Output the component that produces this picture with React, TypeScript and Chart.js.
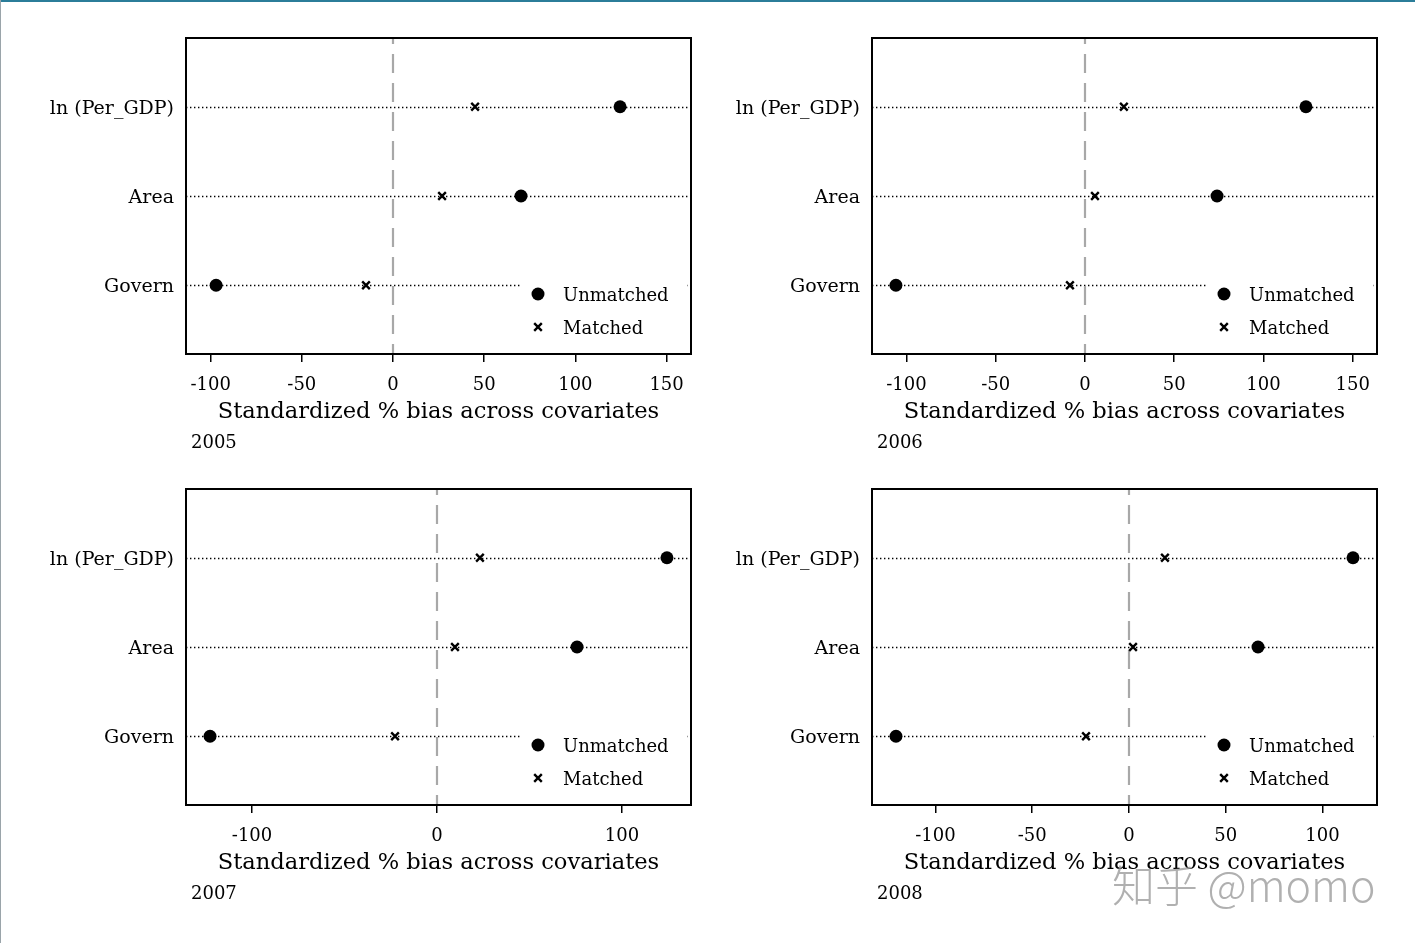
import React, { useEffect, useRef } from 'react';
import { Chart, registerables } from 'chart.js';

Chart.register(...registerables);

// ---- data ----
const covariates = ['Govern', 'Area', 'ln (Per_GDP)']; // y positions 1, 2, 3
const seriesLabels = ['Unmatched', 'Matched'];
const axisTitle = 'Standardized % bias across covariates';

const years = ['2005', '2006', '2007', '2008'];

const unmatched2005 = [-97, 70.2, 124.5];
const matched2005 = [-14.8, 26.9, 45];
const unmatched2006 = [-105.9, 74, 123.8];
const matched2006 = [-8.4, 5.6, 21.8];
const unmatched2007 = [-122.7, 75.7, 124.3];
const matched2007 = [-22.7, 9.7, 23.2];
const unmatched2008 = [-120.4, 66.7, 115.8];
const matched2008 = [-22.2, 2.1, 18.6];

const ticks2005 = [-100, -50, 0, 50, 100, 150];
const ticks2006 = [-100, -50, 0, 50, 100, 150];
const ticks2007 = [-100, 0, 100];
const ticks2008 = [-100, -50, 0, 50, 100];

const range2005 = [-113.5, 163.4];
const range2006 = [-119.3, 163.6];
const range2007 = [-135.7, 137.3];
const range2008 = [-132.8, 128.2];

const FONT = "'DejaVu Serif', serif";

const panelPlugin = {
  id: 'panel',
  beforeDatasetsDraw(chart: any) {
    const { ctx, chartArea, scales } = chart;
    const { left, right, top, bottom } = chartArea;
    const x = scales.x;
    const y = scales.y;
    ctx.save();
    ctx.strokeStyle = '#000';
    ctx.lineWidth = 1.3;
    ctx.setLineDash([1.4, 2.6]);
    [1, 2, 3].forEach((v) => {
      const py = Math.round(y.getPixelForValue(v)) + 0.5;
      ctx.beginPath();
      ctx.moveTo(left, py);
      ctx.lineTo(right, py);
      ctx.stroke();
    });
    ctx.strokeStyle = '#a8a8a8';
    ctx.lineWidth = 2.2;
    ctx.setLineDash([19, 10]);
    ctx.lineDashOffset = 13;
    const px = Math.round(x.getPixelForValue(0));
    ctx.beginPath();
    ctx.moveTo(px, top);
    ctx.lineTo(px, bottom);
    ctx.stroke();
    ctx.restore();
  },
  afterDatasetsDraw(chart: any, _args: any, opts: any) {
    const { ctx, chartArea } = chart;
    const { left, right, top, bottom } = chartArea;
    ctx.save();
    // legend
    ctx.fillStyle = '#fff';
    ctx.fillRect(right - 171, bottom - 80, 167, 76);
    const mx = right - 153;
    const ys = [bottom - 60, bottom - 27];
    const ds = chart.data.datasets;
    ctx.fillStyle = '#000';
    ctx.beginPath();
    ctx.arc(mx, ys[0], 6.5, 0, Math.PI * 2);
    ctx.fill();
    ctx.strokeStyle = '#000';
    ctx.lineWidth = 2.4;
    const c = 3.8;
    ctx.beginPath();
    ctx.moveTo(mx - c, ys[1] - c);
    ctx.lineTo(mx + c, ys[1] + c);
    ctx.moveTo(mx - c, ys[1] + c);
    ctx.lineTo(mx + c, ys[1] - c);
    ctx.stroke();
    ctx.fillStyle = '#000';
    ctx.font = `18px ${FONT}`;
    ctx.textBaseline = 'middle';
    ctx.textAlign = 'left';
    ctx.fillText(ds[0].label, right - 128, ys[0] + 2);
    ctx.fillText(ds[1].label, right - 128, ys[1] + 2);
    // box
    ctx.lineWidth = 2;
    ctx.strokeStyle = '#000';
    ctx.setLineDash([]);
    ctx.strokeRect(left, top, right - left, bottom - top);
    // year
    ctx.font = `18px ${FONT}`;
    ctx.textBaseline = 'middle';
    ctx.fillText(opts.year, left + 5, chart.height - 28);
    ctx.restore();
  },
};

type PanelProps = {
  left: number;
  top: number;
  width: number;
  height: number;
  yAxisWidth: number;
  padRight: number;
  unmatched: number[];
  matched: number[];
  ticks: number[];
  range: number[];
  year: string;
};

function Panel(p: PanelProps) {
  const ref = useRef<HTMLCanvasElement | null>(null);
  useEffect(() => {
    if (!ref.current) return;
    const chart = new Chart(ref.current, {
      type: 'scatter',
      data: {
        datasets: [
          {
            label: seriesLabels[0],
            data: p.unmatched.map((v, i) => ({ x: v, y: i + 1 })),
            pointStyle: 'circle',
            pointRadius: 6.5,
            backgroundColor: '#000',
            borderColor: '#000',
            borderWidth: 0,
          },
          {
            label: seriesLabels[1],
            data: p.matched.map((v, i) => ({ x: v, y: i + 1 })),
            pointStyle: 'crossRot',
            pointRadius: 5.4,
            backgroundColor: '#000',
            borderColor: '#000',
            borderWidth: 2.4,
          },
        ],
      },
      options: {
        animation: false,
        responsive: false,
        maintainAspectRatio: false,
        devicePixelRatio: 1,
        layout: { padding: { left: 0, right: p.padRight, top: 38, bottom: 0 } },
        plugins: {
          legend: { display: false },
          tooltip: { enabled: false },
          panel: { year: p.year },
        } as any,
        scales: {
          x: {
            type: 'linear',
            min: p.range[0],
            max: p.range[1],
            afterBuildTicks: (s: any) => {
              s.ticks = p.ticks.map((v) => ({ value: v }));
            },
            afterFit: (s: any) => {
              s.height = 117;
            },
            grid: {
              drawOnChartArea: false,
              drawTicks: true,
              tickLength: 8,
              color: '#000',
              lineWidth: 1.5,
            },
            border: { display: false },
            ticks: {
              color: '#000',
              font: { family: FONT, size: 18 },
              padding: 13,
              maxRotation: 0,
              autoSkip: false,
              callback: (v: any) => String(v),
            },
            title: {
              display: true,
              text: axisTitle,
              color: '#000',
              font: { family: FONT, size: 22.6 },
              padding: { top: 0, bottom: 45 },
            },
          },
          y: {
            type: 'linear',
            min: 0.23,
            max: 3.77,
            afterBuildTicks: (s: any) => {
              s.ticks = [1, 2, 3].map((v) => ({ value: v }));
            },
            afterFit: (s: any) => {
              s.width = p.yAxisWidth;
            },
            grid: { display: false, drawTicks: false },
            border: { display: false },
            ticks: {
              color: '#000',
              font: { family: FONT, size: 19 },
              padding: 12,
              labelOffset: 2,
              callback: (v: any) => covariates[Math.round(v) - 1] ?? '',
            },
          },
        },
      } as any,
      plugins: [panelPlugin],
    });
    return () => chart.destroy();
  }, []);
  return (
    <canvas
      ref={ref}
      width={p.width}
      height={p.height}
      style={{ position: 'absolute', left: p.left, top: p.top, width: p.width, height: p.height }}
    />
  );
}

export default function App() {
  return (
    <div
      style={{
        position: 'fixed',
        left: 0,
        top: 0,
        width: 1415,
        height: 943,
        background: '#fff',
        overflow: 'hidden',
      }}
    >
      <div style={{ position: 'absolute', left: 0, top: 0, width: 1415, height: 2, background: '#2b7d99' }} />
      <div style={{ position: 'absolute', left: 0, top: 0, width: 1, height: 943, background: '#9aa4aa' }} />
      <Panel left={0} top={0} width={707} height={471} yAxisWidth={186} padRight={16}
        unmatched={unmatched2005} matched={matched2005} ticks={ticks2005} range={range2005} year={years[0]} />
      <Panel left={707} top={0} width={708} height={471} yAxisWidth={165} padRight={38}
        unmatched={unmatched2006} matched={matched2006} ticks={ticks2006} range={range2006} year={years[1]} />
      <Panel left={0} top={451} width={707} height={471} yAxisWidth={186} padRight={16}
        unmatched={unmatched2007} matched={matched2007} ticks={ticks2007} range={range2007} year={years[2]} />
      <Panel left={707} top={451} width={708} height={471} yAxisWidth={165} padRight={38}
        unmatched={unmatched2008} matched={matched2008} ticks={ticks2008} range={range2008} year={years[3]} />
      <div
        style={{
          position: 'absolute',
          left: 1112,
          top: 858,
          fontFamily: "'Noto Sans CJK SC', sans-serif",
          fontSize: 43,
          fontWeight: 300,
          color: 'rgba(150,150,150,0.75)',
          whiteSpace: 'nowrap',
          lineHeight: 1.2,
        }}
      >
        知乎 @momo
      </div>
    </div>
  );
}
